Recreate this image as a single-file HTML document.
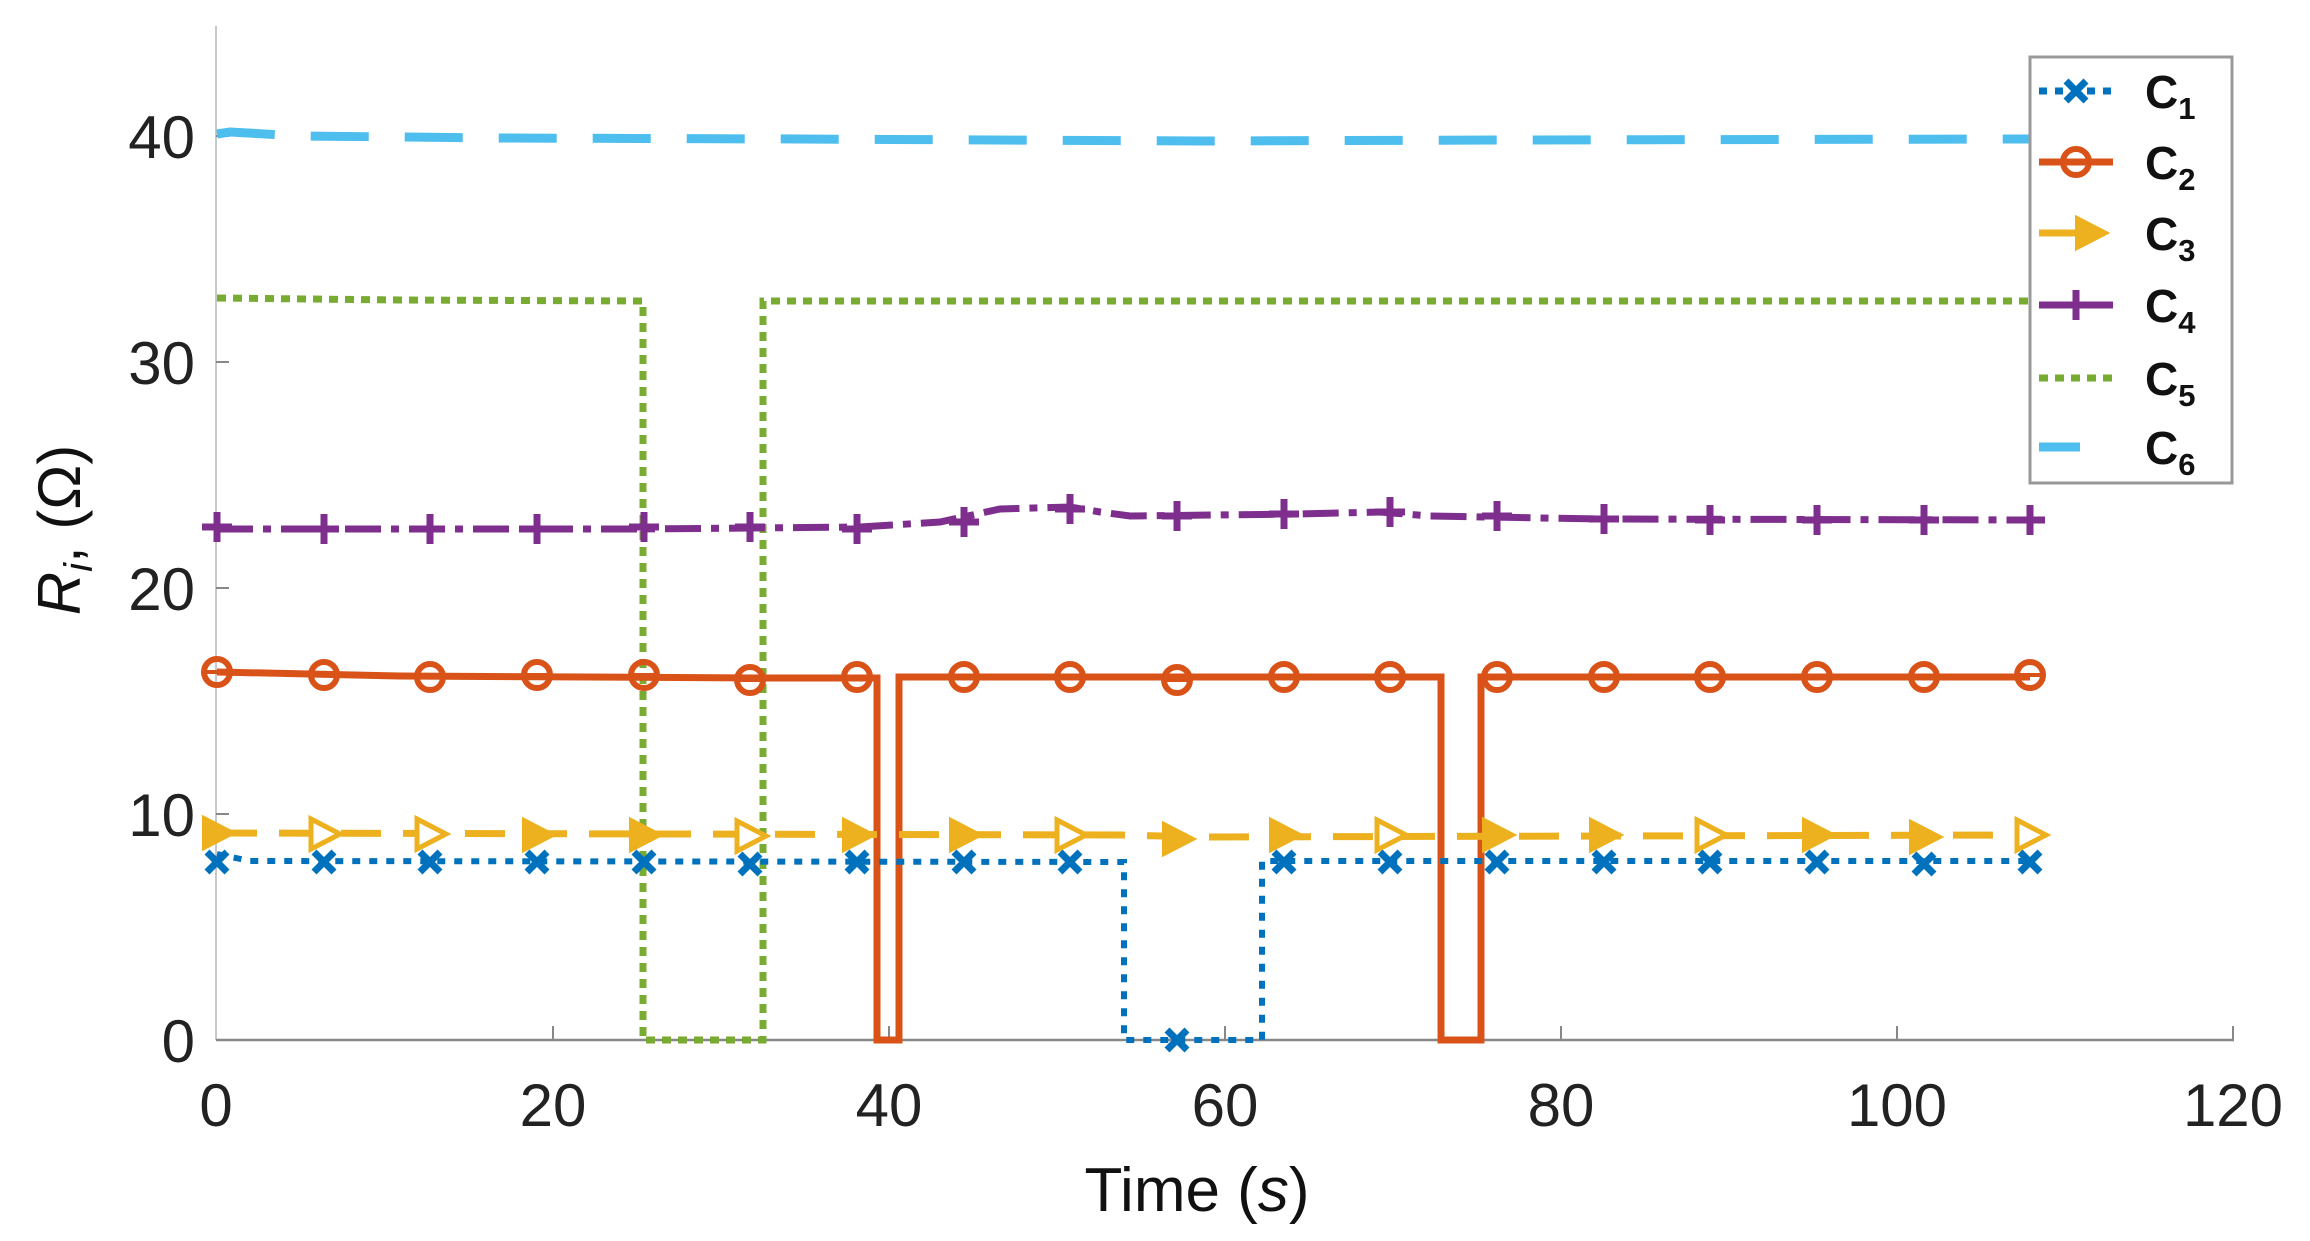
<!DOCTYPE html>
<html><head><meta charset="utf-8"><style>
html,body{margin:0;padding:0;background:#fff}
svg{display:block}
text{font-family:"Liberation Sans",sans-serif}
</style></head><body>
<svg width="2310" height="1241" viewBox="0 0 2310 1241" xmlns="http://www.w3.org/2000/svg">
<defs>
<g id="mx"><path d="M-10,-10L10,10M-10,10L10,-10" stroke="#0072BD" stroke-width="7" fill="none"/></g>
<g id="mo"><circle r="13" stroke="#D95319" stroke-width="6" fill="none"/><line x1="-13" y1="0" x2="13" y2="0" stroke="#D95319" stroke-width="4"/></g>
<g id="mtf"><path d="M-13,-15L16,0L-13,15Z" fill="#EDB120" stroke="#EDB120" stroke-width="4"/></g>
<g id="mto"><path d="M-13,-15L16,0L-13,15Z" fill="#fff" stroke="#EDB120" stroke-width="5"/></g>
<g id="mp"><path d="M-15,0L15,0M0,-15L0,15" stroke="#7E2F8E" stroke-width="7"/></g>
</defs>

<!-- axes -->
<line x1="216" y1="26" x2="216" y2="1040" stroke="#c8c8c8" stroke-width="2"/>
<line x1="216" y1="1040" x2="2234" y2="1040" stroke="#888" stroke-width="2.5"/>
<g stroke="#888" stroke-width="2">
<line x1="553" y1="1040" x2="553" y2="1026"/><line x1="889" y1="1040" x2="889" y2="1026"/>
<line x1="1225" y1="1040" x2="1225" y2="1026"/><line x1="1561" y1="1040" x2="1561" y2="1026"/>
<line x1="1897" y1="1040" x2="1897" y2="1026"/><line x1="2233" y1="1040" x2="2233" y2="1026"/>
<line x1="216" y1="814" x2="229" y2="814"/><line x1="216" y1="588" x2="229" y2="588"/>
<line x1="216" y1="362" x2="229" y2="362"/><line x1="216" y1="136" x2="229" y2="136"/>
</g>
<g font-size="60" fill="#222" text-anchor="middle">
<text x="216" y="1126">0</text><text x="553" y="1126">20</text><text x="889" y="1126">40</text>
<text x="1225" y="1126">60</text><text x="1561" y="1126">80</text><text x="1897" y="1126">100</text><text x="2233" y="1126">120</text>
</g>
<g font-size="60" fill="#222" text-anchor="end">
<text x="195" y="1062">0</text><text x="195" y="836">10</text><text x="195" y="610">20</text>
<text x="195" y="384">30</text><text x="195" y="158">40</text>
</g>
<text x="1197" y="1211" font-size="62" text-anchor="middle" fill="#111">Time (<tspan font-style="italic">s</tspan>)</text>
<text transform="translate(80,530) rotate(-90)" font-size="60" text-anchor="middle" fill="#111"><tspan font-style="italic">R</tspan><tspan font-style="italic" font-size="40" dy="12">i</tspan><tspan dy="-12">, (Ω)</tspan></text>

<!-- C6 -->
<polyline points="217,134 230,132 300,136 500,138 800,139 1200,141 1500,140 2030,139" fill="none" stroke="#4DBEEE" stroke-width="9" stroke-dasharray="58,36"/>
<!-- C5 -->
<polyline points="217,298 400,300 643,301 643,1040 763,1040 763,301 2030,301" fill="none" stroke="#77AC30" stroke-width="7" stroke-dasharray="9,7"/>
<!-- C4 -->
<polyline points="217,529 640,529 860,527 940,522 1000,509 1070,507 1100,512 1130,516 1300,514 1380,512 1430,516 1600,519 2030,520" fill="none" stroke="#7E2F8E" stroke-width="7" stroke-dasharray="36,10,8,10"/>
<!-- C2 -->
<polyline points="217,672 400,676 760,678 877,678 877,1040 899,1040 899,677 1441,677 1441,1040 1481,1040 1481,677 2030,677" fill="none" stroke="#D95319" stroke-width="7"/>
<!-- C3 -->
<polyline points="217,833 1120,835 1200,837 2030,835" fill="none" stroke="#EDB120" stroke-width="7" stroke-dasharray="40,22"/>
<!-- C1 -->
<polyline points="217,854 250,861 1124,862 1124,1040 1262,1040 1262,861 2030,861" fill="none" stroke="#0072BD" stroke-width="6" stroke-dasharray="8,9"/>

<!-- markers -->
<g>
<use href="#mx" x="217" y="862"/><use href="#mx" x="324" y="862"/><use href="#mx" x="430" y="862"/><use href="#mx" x="537" y="862"/><use href="#mx" x="644" y="862"/><use href="#mx" x="750" y="864"/><use href="#mx" x="857" y="862"/><use href="#mx" x="964" y="862"/><use href="#mx" x="1070" y="862"/><use href="#mx" x="1177" y="1040"/><use href="#mx" x="1284" y="862"/><use href="#mx" x="1390" y="862"/><use href="#mx" x="1497" y="862"/><use href="#mx" x="1604" y="862"/><use href="#mx" x="1710" y="862"/><use href="#mx" x="1817" y="862"/><use href="#mx" x="1924" y="864"/><use href="#mx" x="2030" y="862"/>
</g>
<g>
<use href="#mo" x="217" y="672"/><use href="#mo" x="324" y="675"/><use href="#mo" x="430" y="677"/><use href="#mo" x="537" y="675"/><use href="#mo" x="644" y="675"/><use href="#mo" x="750" y="680"/><use href="#mo" x="857" y="677"/><use href="#mo" x="964" y="677"/><use href="#mo" x="1070" y="677"/><use href="#mo" x="1177" y="680"/><use href="#mo" x="1284" y="677"/><use href="#mo" x="1390" y="677"/><use href="#mo" x="1497" y="677"/><use href="#mo" x="1604" y="677"/><use href="#mo" x="1710" y="677"/><use href="#mo" x="1817" y="677"/><use href="#mo" x="1924" y="677"/><use href="#mo" x="2030" y="675"/>
</g>
<g>
<use href="#mtf" x="217" y="833"/><use href="#mto" x="324" y="834"/><use href="#mto" x="430" y="834"/><use href="#mtf" x="537" y="835"/><use href="#mtf" x="644" y="835"/><use href="#mto" x="750" y="836"/><use href="#mtf" x="857" y="835"/><use href="#mtf" x="964" y="835"/><use href="#mto" x="1070" y="835"/><use href="#mtf" x="1177" y="839"/><use href="#mtf" x="1284" y="835"/><use href="#mto" x="1390" y="835"/><use href="#mtf" x="1497" y="835"/><use href="#mtf" x="1604" y="835"/><use href="#mto" x="1710" y="835"/><use href="#mtf" x="1817" y="835"/><use href="#mtf" x="1924" y="837"/><use href="#mto" x="2030" y="835"/>
</g>
<g>
<use href="#mp" x="217" y="527"/><use href="#mp" x="324" y="529"/><use href="#mp" x="430" y="529"/><use href="#mp" x="537" y="529"/><use href="#mp" x="644" y="527"/><use href="#mp" x="750" y="527"/><use href="#mp" x="857" y="529"/><use href="#mp" x="964" y="522"/><use href="#mp" x="1070" y="509"/><use href="#mp" x="1177" y="516"/><use href="#mp" x="1284" y="514"/><use href="#mp" x="1390" y="512"/><use href="#mp" x="1497" y="516"/><use href="#mp" x="1604" y="519"/><use href="#mp" x="1710" y="520"/><use href="#mp" x="1817" y="520"/><use href="#mp" x="1924" y="520"/><use href="#mp" x="2030" y="520"/>
</g>

<!-- legend -->
<rect x="2030" y="57" width="202" height="426" fill="#fff" stroke="#999" stroke-width="3"/>
<line x1="2039" y1="91" x2="2113" y2="91" stroke="#0072BD" stroke-width="7" stroke-dasharray="8,8"/><use href="#mx" x="2076" y="91"/>
<line x1="2039" y1="162" x2="2113" y2="162" stroke="#D95319" stroke-width="7"/><use href="#mo" x="2076" y="162"/>
<line x1="2039" y1="233" x2="2100" y2="233" stroke="#EDB120" stroke-width="7"/><use href="#mtf" x="2090" y="233"/>
<line x1="2039" y1="305" x2="2113" y2="305" stroke="#7E2F8E" stroke-width="7"/><use href="#mp" x="2076" y="305"/>
<line x1="2039" y1="378" x2="2113" y2="378" stroke="#77AC30" stroke-width="7" stroke-dasharray="9,7"/>
<line x1="2039" y1="447" x2="2080" y2="447" stroke="#4DBEEE" stroke-width="9"/>
<g font-size="46" font-weight="bold" fill="#111">
<text x="2145" y="108">C<tspan font-size="31" dy="11">1</tspan></text>
<text x="2145" y="179">C<tspan font-size="31" dy="11">2</tspan></text>
<text x="2145" y="250">C<tspan font-size="31" dy="11">3</tspan></text>
<text x="2145" y="322">C<tspan font-size="31" dy="11">4</tspan></text>
<text x="2145" y="395">C<tspan font-size="31" dy="11">5</tspan></text>
<text x="2145" y="464">C<tspan font-size="31" dy="11">6</tspan></text>
</g>
</svg>
</body></html>
